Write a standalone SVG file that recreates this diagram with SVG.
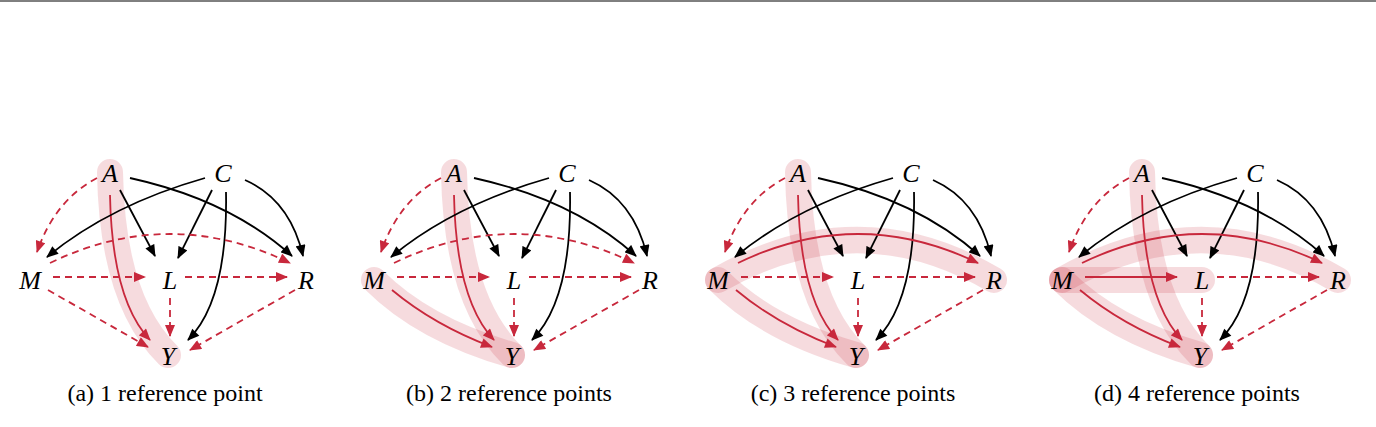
<svg xmlns="http://www.w3.org/2000/svg" xmlns:xlink="http://www.w3.org/1999/xlink" width="1376" height="427" viewBox="0 0 1376 427">
<defs>
<style>
.n{font-family:"Liberation Serif",serif;font-style:italic;font-size:26px;text-anchor:middle}
.cap{font-family:"Liberation Serif",serif;font-size:24px;text-anchor:middle}
.k{fill:none;stroke:#000;stroke-width:1.8;marker-end:url(#ak)}
.r{fill:none;stroke:#c8283c;stroke-width:1.8;marker-end:url(#ar)}
.d{stroke-dasharray:7 5}
.h{fill:none;stroke:#c8283c;stroke-opacity:0.17;stroke-width:26;stroke-linecap:round;stroke-linejoin:round}
</style>
<marker id="ak" viewBox="0 0 12 10" refX="11" refY="5" markerWidth="13" markerHeight="10" markerUnits="userSpaceOnUse" orient="auto"><path d="M0,0L12,5L0,10z" fill="#000"/></marker>
<marker id="ar" viewBox="0 0 12 10" refX="11" refY="5" markerWidth="13" markerHeight="10" markerUnits="userSpaceOnUse" orient="auto"><path d="M0,0L12,5L0,10z" fill="#c8283c"/></marker>
</defs>
<line x1="0" y1="1" x2="1376" y2="1" stroke="#000" stroke-width="1"/>
<g id="panel-a">
<g id="hl-a"><path class="h" d="M110,172 Q112,300 168,355"/></g>
<g id="edges-a">
<path class="r d" d="M97,178 Q55,200 37,252"/>
<path class="k" d="M120,190 L155,256"/>
<path class="k" d="M130,178 Q230,200 292,256"/>
<path class="r" d="M110,195 Q112,300 150,340"/>
<path class="k" d="M205,178 Q110,205 47,257"/>
<path class="k" d="M212,190 L178,258"/>
<path class="k" d="M226,192 Q228,300 188,340"/>
<path class="k" d="M245,180 Q290,200 303,256"/>
<path class="r d" d="M50,263 Q170,205 290,263"/>
<path class="r d" d="M53,277 L145,277"/>
<path class="r d" d="M185,277 L287,277"/>
<path class="r d" d="M48,290 L148,347"/>
<path class="r d" d="M170,298 L170,336"/>
<path class="r d" d="M295,290 L190,350"/>
</g>
<g id="A-a"><text class="n" x="110" y="182">A</text></g>
<g id="C-a"><text class="n" x="223" y="182">C</text></g>
<g id="M-a"><text class="n" x="30" y="289">M</text></g>
<g id="L-a"><text class="n" x="170" y="289">L</text></g>
<g id="R-a"><text class="n" x="306" y="289">R</text></g>
<g id="Y-a"><text class="n" x="168" y="365">Y</text></g>
<text class="cap" x="165" y="401">(a) 1 reference point</text>
</g>
<g id="panel-b" transform="translate(344,0)">
<g id="hl-b"><path class="h" d="M110,172 Q112,300 168,355"/><path class="h" d="M30,280 Q80,330 168,355"/></g>
<g id="edges-b">
<path class="r d" d="M97,178 Q55,200 37,252"/>
<path class="k" d="M120,190 L155,256"/>
<path class="k" d="M130,178 Q230,200 292,256"/>
<path class="r" d="M110,195 Q112,300 150,340"/>
<path class="k" d="M205,178 Q110,205 47,257"/>
<path class="k" d="M212,190 L178,258"/>
<path class="k" d="M226,192 Q228,300 188,340"/>
<path class="k" d="M245,180 Q290,200 303,256"/>
<path class="r d" d="M50,263 Q170,205 290,263"/>
<path class="r d" d="M53,277 L145,277"/>
<path class="r d" d="M185,277 L287,277"/>
<path class="r" d="M48,290 Q90,325 148,347"/>
<path class="r d" d="M170,298 L170,336"/>
<path class="r d" d="M295,290 L190,350"/>
</g>
<g id="A-b"><text class="n" x="110" y="182">A</text></g>
<g id="C-b"><text class="n" x="223" y="182">C</text></g>
<g id="M-b"><text class="n" x="30" y="289">M</text></g>
<g id="L-b"><text class="n" x="170" y="289">L</text></g>
<g id="R-b"><text class="n" x="306" y="289">R</text></g>
<g id="Y-b"><text class="n" x="168" y="365">Y</text></g>
<text class="cap" x="165" y="401">(b) 2 reference points</text>
</g>
<g id="panel-c" transform="translate(688,0)">
<g id="hl-c"><path class="h" d="M110,172 Q112,300 168,355"/><path class="h" d="M30,280 Q80,330 168,355"/><path class="h" d="M30,280 Q170,200 306,280"/></g>
<g id="edges-c">
<path class="r d" d="M97,178 Q55,200 37,252"/>
<path class="k" d="M120,190 L155,256"/>
<path class="k" d="M130,178 Q230,200 292,256"/>
<path class="r" d="M110,195 Q112,300 150,340"/>
<path class="k" d="M205,178 Q110,205 47,257"/>
<path class="k" d="M212,190 L178,258"/>
<path class="k" d="M226,192 Q228,300 188,340"/>
<path class="k" d="M245,180 Q290,200 303,256"/>
<path class="r" d="M50,263 Q170,205 290,263"/>
<path class="r d" d="M53,277 L145,277"/>
<path class="r d" d="M185,277 L287,277"/>
<path class="r" d="M48,290 Q90,325 148,347"/>
<path class="r d" d="M170,298 L170,336"/>
<path class="r d" d="M295,290 L190,350"/>
</g>
<g id="A-c"><text class="n" x="110" y="182">A</text></g>
<g id="C-c"><text class="n" x="223" y="182">C</text></g>
<g id="M-c"><text class="n" x="30" y="289">M</text></g>
<g id="L-c"><text class="n" x="170" y="289">L</text></g>
<g id="R-c"><text class="n" x="306" y="289">R</text></g>
<g id="Y-c"><text class="n" x="168" y="365">Y</text></g>
<text class="cap" x="165" y="401">(c) 3 reference points</text>
</g>
<g id="panel-d" transform="translate(1032,0)">
<g id="hl-d"><path class="h" d="M110,172 Q112,300 168,355"/><path class="h" d="M30,280 Q80,330 168,355"/><path class="h" d="M30,280 Q170,200 306,280"/><path class="h" d="M30,280 L170,280"/></g>
<g id="edges-d">
<path class="r d" d="M97,178 Q55,200 37,252"/>
<path class="k" d="M120,190 L155,256"/>
<path class="k" d="M130,178 Q230,200 292,256"/>
<path class="r" d="M110,195 Q112,300 150,340"/>
<path class="k" d="M205,178 Q110,205 47,257"/>
<path class="k" d="M212,190 L178,258"/>
<path class="k" d="M226,192 Q228,300 188,340"/>
<path class="k" d="M245,180 Q290,200 303,256"/>
<path class="r" d="M50,263 Q170,205 290,263"/>
<path class="r" d="M53,277 L145,277"/>
<path class="r d" d="M185,277 L287,277"/>
<path class="r" d="M48,290 Q90,325 148,347"/>
<path class="r d" d="M170,298 L170,336"/>
<path class="r d" d="M295,290 L190,350"/>
</g>
<g id="A-d"><text class="n" x="110" y="182">A</text></g>
<g id="C-d"><text class="n" x="223" y="182">C</text></g>
<g id="M-d"><text class="n" x="30" y="289">M</text></g>
<g id="L-d"><text class="n" x="170" y="289">L</text></g>
<g id="R-d"><text class="n" x="306" y="289">R</text></g>
<g id="Y-d"><text class="n" x="168" y="365">Y</text></g>
<text class="cap" x="165" y="401">(d) 4 reference points</text>
</g>
</svg>
